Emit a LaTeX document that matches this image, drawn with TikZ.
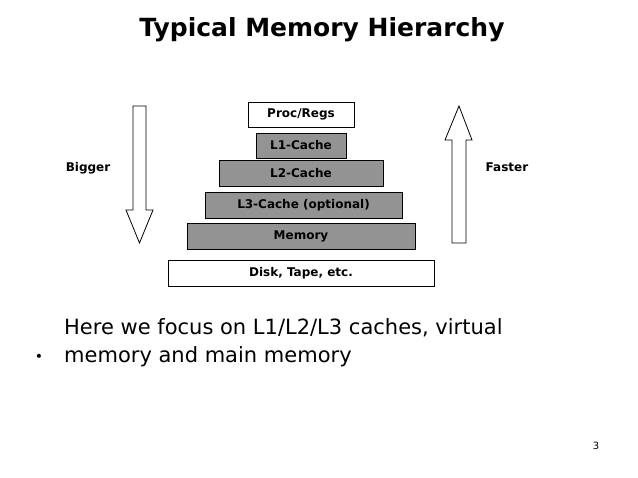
\documentclass[tikz,border=0pt]{standalone}
\usepackage{fontspec}
\setmainfont{DejaVu Sans}
\begin{document}
\begin{tikzpicture}[x=1pt,y=-1pt,
  lvl/.style={draw=black,line width=0.8pt,fill=#1,font=\bfseries\fontsize{12}{14}\selectfont,inner sep=0pt},
  lbl/.style={font=\bfseries\fontsize{12}{14}\selectfont},
  arr/.style={draw=black,line width=0.8pt,fill=white}]
\useasboundingbox (0,0) rectangle (638,478);
\node[font=\bfseries\fontsize{25}{30}\selectfont] (title) at (322,30) {Typical Memory Hierarchy};
\node[lvl=white,minimum width=106pt,minimum height=25pt] (p) at (301,114.5) {Proc/Regs};
\node[lvl=gray!85,minimum width=90pt,minimum height=25pt] (l1) at (301,145.5) {L1-Cache};
\node[lvl=gray!85,minimum width=164pt,minimum height=26pt] (l2) at (301,173) {L2-Cache};
\node[lvl=gray!85,minimum width=197pt,minimum height=26pt] (l3) at (303.5,205) {L3-Cache (optional)};
\node[lvl=gray!85,minimum width=228pt,minimum height=26pt] (m) at (301,236) {Memory};
\node[lvl=white,minimum width=266pt,minimum height=26pt] (d) at (301,273) {Disk, Tape, etc.};
\draw[arr] (133,106)--(146,106)--(146,210)--(153,210)--(139.5,243)--(126,210)--(133,210)--cycle;
\draw[arr] (452,243)--(466,243)--(466,140)--(472,140)--(459,106)--(445,140)--(452,140)--cycle;
\node[lbl] (big) at (88,168) {Bigger};
\node[lbl] (fast) at (507,167) {Faster};
\node[font=\fontsize{14}{16}\selectfont] (bul) at (39,358) {•};
\node[anchor=north west,align=left,font=\fontsize{21}{28}\selectfont,inner sep=0pt] (txt) at (64,318) {Here we focus on L1/L2/L3 caches, virtual\\memory and main memory};
\node[font=\rmfamily\fontsize{10}{12}\selectfont] (pg) at (596,446) {3};
\end{tikzpicture}
\end{document}
